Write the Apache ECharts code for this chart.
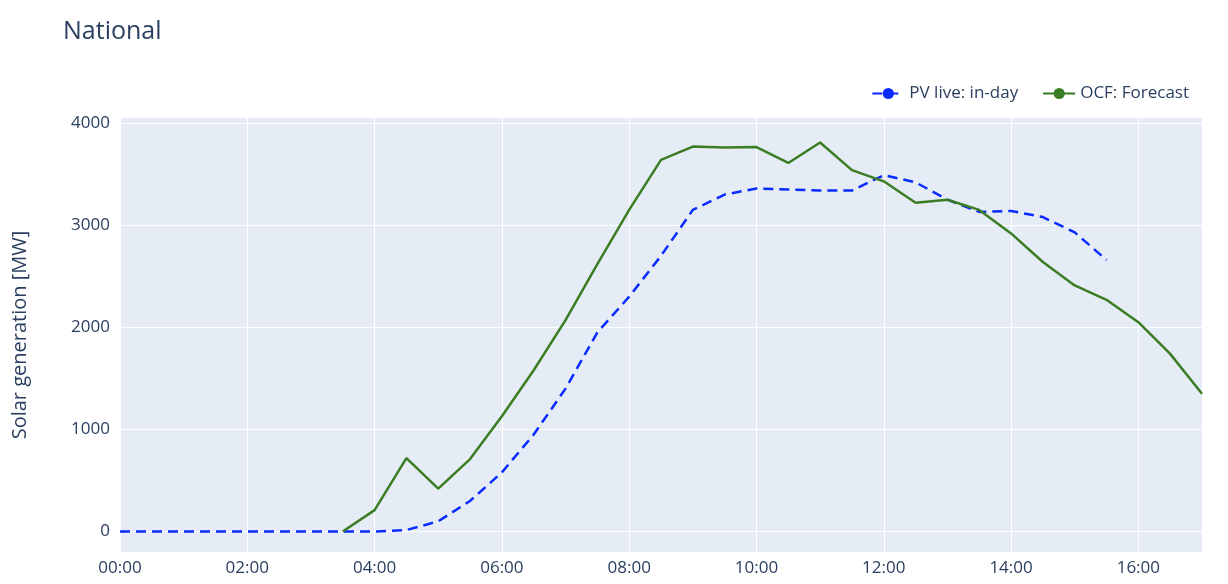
<!DOCTYPE html>
<html><head><meta charset="utf-8">
<script src="https://cdn.jsdelivr.net/npm/echarts@6/dist/echarts.min.js"></script>
<style>body{margin:0}#c{width:1228px;height:584px}</style>
</head><body><div id="c"></div>
<script>
// half-hour steps, hours since midnight
var pvHours=[0,0.5,1,1.5,2,2.5,3,3.5,4,4.5,5,5.5,6,6.5,7,7.5,8,8.5,9,9.5,10,10.5,11,11.5,12,12.5,13,13.5,14,14.5,15,15.5];
var pvLive=[0,0,0,0,0,0,0,0,0,15,100,300,580,950,1400,1950,2300,2700,3150,3300,3360,3350,3340,3340,3490,3420,3250,3130,3140,3080,2930,2660];
var fcHours=[3.5,4,4.5,5,5.5,6,6.5,7,7.5,8,8.5,9,9.5,10,10.5,11,11.5,12,12.5,13,13.5,14,14.5,15,15.5,16,16.5,17];
var forecast=[0,210,720,420,710,1130,1580,2070,2620,3150,3640,3770,3760,3765,3610,3810,3540,3430,3220,3250,3150,2920,2640,2410,2270,2050,1740,1350];
var yTicks=[0,1000,2000,3000,4000];

function pairs(xs,ys){return xs.map(function(x,i){return [x,ys[i]];});}
var font='"Open Sans", "Noto Sans", sans-serif';
var chart=echarts.init(document.getElementById('c'));
chart.setOption({
  animation:false,
  title:{text:'National',left:58,top:14,textStyle:{fontFamily:font,fontSize:25,fontWeight:'normal',color:'#2a3f5f'}},
  legend:{right:34,top:80,itemWidth:32,itemGap:24,textStyle:{fontFamily:font,fontSize:17,color:'#2a3f5f'},
    data:['PV live: in-day','OCF: Forecast']},
  grid:{left:120,right:26,top:118,bottom:32,show:true,backgroundColor:'#E5ECF6',borderWidth:0},
  xAxis:{type:'value',min:0,max:17,interval:2,
    axisLine:{show:false},axisTick:{show:false},
    splitLine:{lineStyle:{color:'#fff',width:1}},
    axisLabel:{fontFamily:font,fontSize:17,color:'#2a3f5f',margin:8,showMaxLabel:false,
      formatter:function(v){return (v<10?'0':'')+v+':00';}}},
  yAxis:{type:'value',min:-200,max:4050,
    name:'Solar generation [MW]',nameLocation:'middle',nameGap:90,
    nameTextStyle:{fontFamily:font,fontSize:20,color:'#2a3f5f'},
    axisLine:{show:false},
    axisTick:{show:false,customValues:yTicks},
    splitLine:{lineStyle:{color:'#fff',width:1}},
    axisLabel:{customValues:yTicks,fontFamily:font,fontSize:17,color:'#2a3f5f',margin:10,
      formatter:function(v){return String(v);}}},
  series:[
    {name:'PV live: in-day',type:'line',symbol:'none',data:pairs(pvHours,pvLive),
      lineStyle:{color:'#0a2bff',width:2.5,type:[10,6]},itemStyle:{color:'#0a2bff'}},
    {name:'OCF: Forecast',type:'line',symbol:'none',data:pairs(fcHours,forecast),
      lineStyle:{color:'#3a7d22',width:2.5},itemStyle:{color:'#3a7d22'}}
  ]
});
</script></body></html>
